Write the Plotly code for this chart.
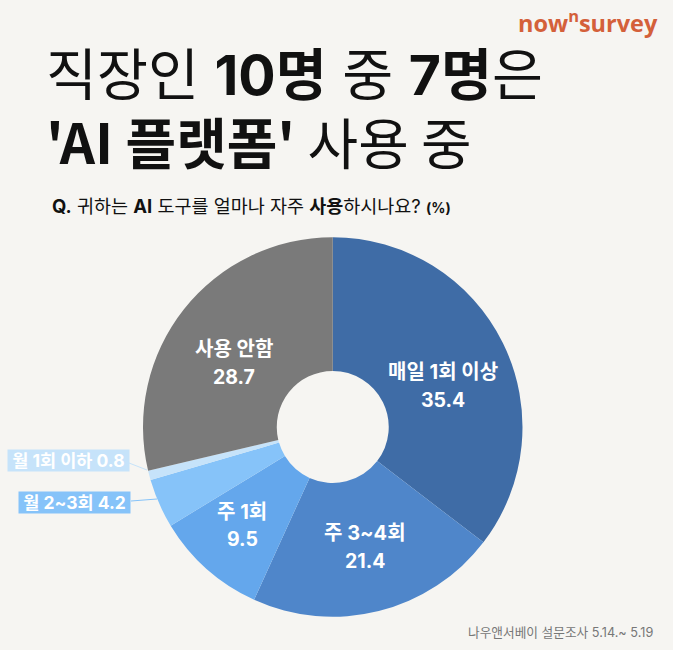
"""나우앤서베이 AI 도구 사용 빈도 도넛 차트."""

import plotly.graph_objects as go

W, H = 686, 652
BG = "#f6f5f2"
FONT = "Inter, 'Noto Sans CJK KR'"
CJK = "Noto Sans CJK KR"

labels = ["매일 1회 이상", "주 3~4회", "주 1회", "월 2~3회", "월 1회 이하", "사용 안함"]
values = [35.4, 21.4, 9.5, 4.2, 0.8, 28.7]
colors = ["#3f6ca6", "#4f86ca", "#64a7ec", "#86c3f9", "#c6e3fa", "#7a7a7a"]


def px(x, y):
    return x / W, 1 - y / H


x0, y0 = px(143, 617)
x1, y1 = px(522.5, 237)

fig = go.Figure(
    go.Pie(
        labels=labels,
        values=values,
        sort=False,
        direction="clockwise",
        rotation=0,
        hole=0.295,
        marker=dict(colors=colors, line=dict(width=0)),
        textinfo="none",
        showlegend=False,
        domain=dict(x=[x0, x1], y=[y0, y1]),
    )
)


def note(text, x, y, size, color="#111111", anchor="left", family=FONT, **kw):
    ax, ay = px(x, y)
    fig.add_annotation(
        text=text,
        x=ax,
        y=ay,
        xref="paper",
        yref="paper",
        xanchor=anchor,
        yanchor="middle",
        showarrow=False,
        font=dict(family=family, size=size, color=color),
        **kw,
    )


note("직장인 <b>10명</b> 중 <b>7명</b>은", 44, 74, 55.4)
note("<b>'AI 플랫폼'</b> 사용 중", 44, 140, 55, family=CJK)
note("<b>Q.</b> 귀하는 <b>AI</b> 도구를 얼마나 자주 <b>사용</b>하시나요? <span style='font-size:14px'><b>(%)</b></span>", 50, 206, 18.5)
note("<b>now<sup>n</sup>survey</b>", 516, 21, 23.5, color="#d4603a", family="Open Sans")
note("나우앤서베이 설문조사 5.14.~ 5.19", 466, 632, 12.7, color="#777777")

# 큰 조각 라벨: 이름과 값을 따로 놓는다
big_labels = {0: (443, 372, 400), 1: (365, 533, 561), 2: (242, 512, 539), 5: (234, 349, 377)}
for i, (x, y_name, y_val) in big_labels.items():
    note(f"<b>{labels[i]}</b>", x, y_name, 20, color="white", anchor="center")
    note(f"<b>{values[i]}</b>", x, y_val, 19.5, color="white", anchor="center")

# 배경은 오른쪽·아래에 흰 여백을 남긴다
fig.add_shape(type="rect", xref="paper", yref="paper", layer="below",
              x0=px(0, 0)[0], y0=px(0, 650)[1], x1=px(673, 0)[0], y1=px(0, 0)[1],
              fillcolor=BG, line=dict(width=0))

# 작은 조각 라벨 + 지시선
fig.add_shape(type="line", xref="paper", yref="paper",
              x0=px(129, 0)[0], y0=px(0, 463)[1], x1=px(147, 0)[0], y1=px(0, 470)[1],
              line=dict(color="#c6e3fa", width=1))
fig.add_shape(type="line", xref="paper", yref="paper",
              x0=px(131, 0)[0], y0=px(0, 501)[1], x1=px(157, 0)[0], y1=px(0, 499)[1],
              line=dict(color="#86c3f9", width=1))
note(f"<b>\u00a0{labels[4]} {values[4]}\u00a0</b>", 68, 460.5, 17.5, color="white", anchor="center", bgcolor="#c6e3fa", borderpad=0)
note(f"<b>\u00a0{labels[3]} {values[3]}\u00a0</b>", 74.5, 502, 17.5, color="white", anchor="center", bgcolor="#86c3f9", borderpad=0)

fig.update_layout(
    width=W,
    height=H,
    margin=dict(l=0, r=0, t=0, b=0),
    paper_bgcolor="white",
)
fig.write_html("out.html", config=dict(displayModeBar=False), post_script="document.body.style.margin='0';")
